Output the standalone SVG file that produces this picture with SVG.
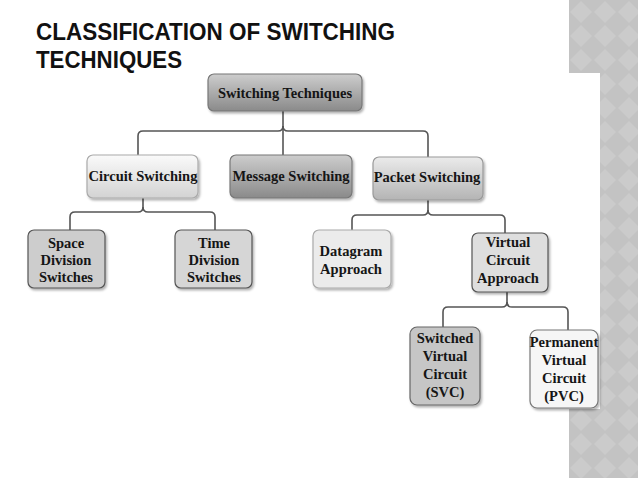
<svg xmlns="http://www.w3.org/2000/svg" width="638" height="478" viewBox="0 0 638 478">
<defs>
  <pattern id="diam" x="569" y="0" width="24" height="24" patternUnits="userSpaceOnUse">
    <rect width="24" height="24" fill="#c3c3c3"/>
    <path d="M12,1 L23,12 L12,23 L1,12 Z" fill="#cbcbcb"/>
  </pattern>
  <linearGradient id="gDark" x1="0" y1="0" x2="0" y2="1">
    <stop offset="0" stop-color="#cdcdcd"/>
    <stop offset="1" stop-color="#8a8a8a"/>
  </linearGradient>
  <linearGradient id="gLight" x1="0" y1="0" x2="0" y2="1">
    <stop offset="0" stop-color="#fafafa"/>
    <stop offset="1" stop-color="#d3d3d3"/>
  </linearGradient>
  <linearGradient id="gMid" x1="0" y1="0" x2="0" y2="1">
    <stop offset="0" stop-color="#ebebeb"/>
    <stop offset="1" stop-color="#b4b4b4"/>
  </linearGradient>
  <filter id="sh" x="-10%" y="-10%" width="125%" height="130%">
    <feDropShadow dx="1.5" dy="2" stdDeviation="1.2" flood-color="#000" flood-opacity="0.3"/>
  </filter>
  <style>
    .box { stroke-width: 1.2; filter: url(#sh); }
    .t { font-family: "Liberation Serif", "Times New Roman", serif; font-weight: bold; font-size: 14.5px; fill: #151515; text-anchor: middle; }
    .title { font-family: "Liberation Sans", Arial, sans-serif; font-weight: bold; font-size: 24px; fill: #111; }
    .c { fill: none; stroke: #555; stroke-width: 1.6; }
  </style>
</defs>

<rect x="0" y="0" width="638" height="478" fill="#ffffff"/>
<rect x="569" y="0" width="69" height="478" fill="url(#diam)"/>
<rect x="560" y="73" width="40" height="336" fill="#ffffff"/>

<text class="title" x="36" y="40" textLength="359" lengthAdjust="spacingAndGlyphs">CLASSIFICATION OF SWITCHING</text>
<text class="title" x="36" y="68" textLength="146" lengthAdjust="spacingAndGlyphs">TECHNIQUES</text>

<g id="connectors">
  <path class="c" d="M283,111 V155"/>
  <path class="c" d="M283,126 Q283,131 278,131 H143 Q138,131 138,136 V155"/>
  <path class="c" d="M283,126 Q283,131 288,131 H423 Q428,131 428,136 V157"/>

  <path class="c" d="M143,198 V207 Q143,212 138,212 H75 Q70,212 70,217 V230"/>
  <path class="c" d="M143,207 Q143,212 148,212 H210 Q215,212 215,217 V230"/>

  <path class="c" d="M428,200 V210 Q428,215 423,215 H357 Q352,215 352,220 V230"/>
  <path class="c" d="M428,210 Q428,215 433,215 H500 Q505,215 505,220 V233"/>

  <path class="c" d="M507,292 V302 Q507,307 502,307 H448 Q443,307 443,312 V327"/>
  <path class="c" d="M507,302 Q507,307 512,307 H563 Q568,307 568,312 V330"/>
</g>

<g id="switching-techniques">
  <rect class="box" x="208" y="74" width="154" height="37" rx="6" fill="url(#gDark)" stroke="#777"/>
  <text class="t" x="285" y="98">Switching Techniques</text>
</g>

<g id="circuit-switching">
  <rect class="box" x="87" y="155" width="111" height="43" rx="6" fill="url(#gLight)" stroke="#aaa"/>
  <text class="t" x="143" y="181">Circuit Switching</text>
</g>

<g id="message-switching">
  <rect class="box" x="230" y="155" width="122" height="43" rx="6" fill="url(#gDark)" stroke="#777"/>
  <text class="t" x="291" y="181">Message Switching</text>
</g>

<g id="packet-switching">
  <rect class="box" x="373" y="157" width="110" height="43" rx="6" fill="url(#gMid)" stroke="#999"/>
  <text class="t" x="427" y="182">Packet Switching</text>
</g>

<g id="space-division">
  <rect class="box" x="28" y="230" width="77" height="58" rx="6" fill="#cdcdcd" stroke="#555"/>
  <text class="t" x="66" y="248">Space</text>
  <text class="t" x="66" y="265">Division</text>
  <text class="t" x="66" y="282">Switches</text>
</g>

<g id="time-division">
  <rect class="box" x="175" y="230" width="77" height="58" rx="6" fill="#d6d6d6" stroke="#555"/>
  <text class="t" x="214" y="248">Time</text>
  <text class="t" x="214" y="265">Division</text>
  <text class="t" x="214" y="282">Switches</text>
</g>

<g id="datagram">
  <rect class="box" x="313" y="230" width="78" height="58" rx="6" fill="#ebebeb" stroke="#aaa"/>
  <text class="t" x="351" y="256">Datagram</text>
  <text class="t" x="351" y="274">Approach</text>
</g>

<g id="virtual-circuit">
  <rect class="box" x="472" y="233" width="76" height="59" rx="6" fill="#dedede" stroke="#555"/>
  <text class="t" x="508" y="247">Virtual</text>
  <text class="t" x="508" y="265">Circuit</text>
  <text class="t" x="508" y="283">Approach</text>
</g>

<g id="svc">
  <rect class="box" x="410" y="327" width="70" height="78" rx="7" fill="#c6c6c6" stroke="#666"/>
  <text class="t" x="445" y="343">Switched</text>
  <text class="t" x="445" y="361">Virtual</text>
  <text class="t" x="445" y="379">Circuit</text>
  <text class="t" x="445" y="397">(SVC)</text>
</g>

<g id="pvc">
  <rect class="box" x="530" y="330" width="68" height="78" rx="7" fill="#f6f6f6" stroke="#777"/>
  <text class="t" x="564" y="347">Permanent</text>
  <text class="t" x="564" y="365">Virtual</text>
  <text class="t" x="564" y="383">Circuit</text>
  <text class="t" x="564" y="401">(PVC)</text>
</g>
</svg>
